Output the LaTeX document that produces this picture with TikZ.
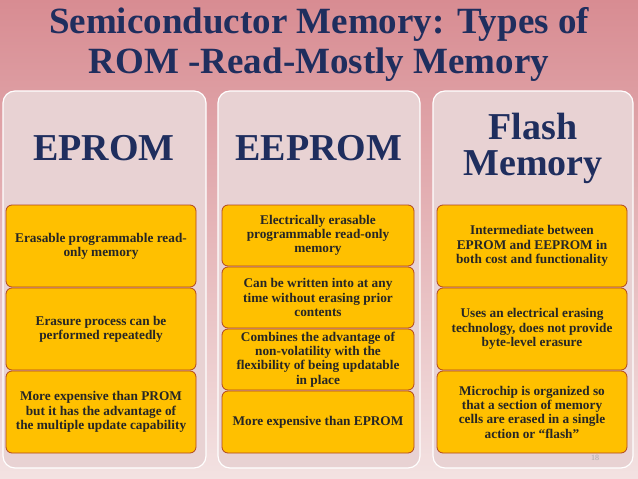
\documentclass[tikz,border=0pt]{standalone}
\usepackage{fontspec}
\setmainfont{Liberation Serif}
\definecolor{navy}{HTML}{1F2E5E}
\definecolor{colbg}{HTML}{E8D2D3}
\definecolor{boxfill}{HTML}{FFC000}
\definecolor{boxline}{HTML}{B0461E}
\begin{document}
\begin{tikzpicture}[x=1pt,y=-1pt,
 col/.style={draw=white,line width=1.2pt,fill=colbg,rounded corners=12pt},
 item/.style={draw=boxline,line width=0.8pt,fill=boxfill,rounded corners=6pt},
 txt/.style={align=center,font=\bfseries\fontsize{13.3}{14.3}\selectfont,text=black!85},
 head/.style={align=center,font=\bfseries\fontsize{38}{36}\selectfont,text=navy},
 ttl/.style={font=\bfseries\fontsize{37}{40}\selectfont,text=navy,align=center}]
\useasboundingbox (0,0) rectangle (638,479);
\shade[top color={rgb,255:red,216;green,140;blue,146},bottom color={rgb,255:red,243;green,226;blue,226}] (0,0) rectangle (638,479);
\node[ttl] (title) at (319,44) {Semiconductor Memory: Types of\\ROM -Read-Mostly Memory};
% columns
\draw[col] (3,91) rectangle (206,468);
\draw[col] (218,91) rectangle (420,468);
\draw[col] (433,91) rectangle (633,468);
\node[head] (h1) at (104,148) {EPROM};
\node[head] (h2) at (319,148) {EEPROM};
\node[head] (h3) at (533,148) {Flash\\Memory};
% col1
\draw[item] (6,205) rectangle node[txt] (a1) {Erasable programmable read-\\only memory} (196,287);
\draw[item] (6,288) rectangle node[txt] (a2) {Erasure process can be\\performed repeatedly} (196,370);
\draw[item] (6,371) rectangle node[txt] (a3) {More expensive than PROM\\but it has the advantage of\\the multiple update capability} (196,453);
% col2
\draw[item] (222,205) rectangle node[txt] (b1) {Electrically erasable\\programmable read-only\\memory} (414,266);
\draw[item] (222,267) rectangle node[txt] (b2) {Can be written into at any\\time without erasing prior\\contents} (414,328);
\draw[item] (222,329) rectangle node[txt] (b3) {Combines the advantage of\\non-volatility with the\\flexibility of being updatable\\in place} (414,390);
\draw[item] (222,391) rectangle node[txt] (b4) {More expensive than EPROM} (414,453);
% col3
\draw[item] (437,205) rectangle node[txt] (c1) {Intermediate between\\EPROM and EEPROM in\\both cost and functionality} (627,287);
\draw[item] (437,288) rectangle node[txt] (c2) {Uses an electrical erasing\\technology, does not provide\\byte-level erasure} (627,370);
\draw[item] (437,371) rectangle node[txt] (c3) {Microchip is organized so\\that a section of memory\\cells are erased in a single\\action or “flash”} (627,453);
\node[text=gray!70,font=\fontsize{8}{9}\selectfont] (pg) at (595,458) {18};
\end{tikzpicture}
\end{document}
